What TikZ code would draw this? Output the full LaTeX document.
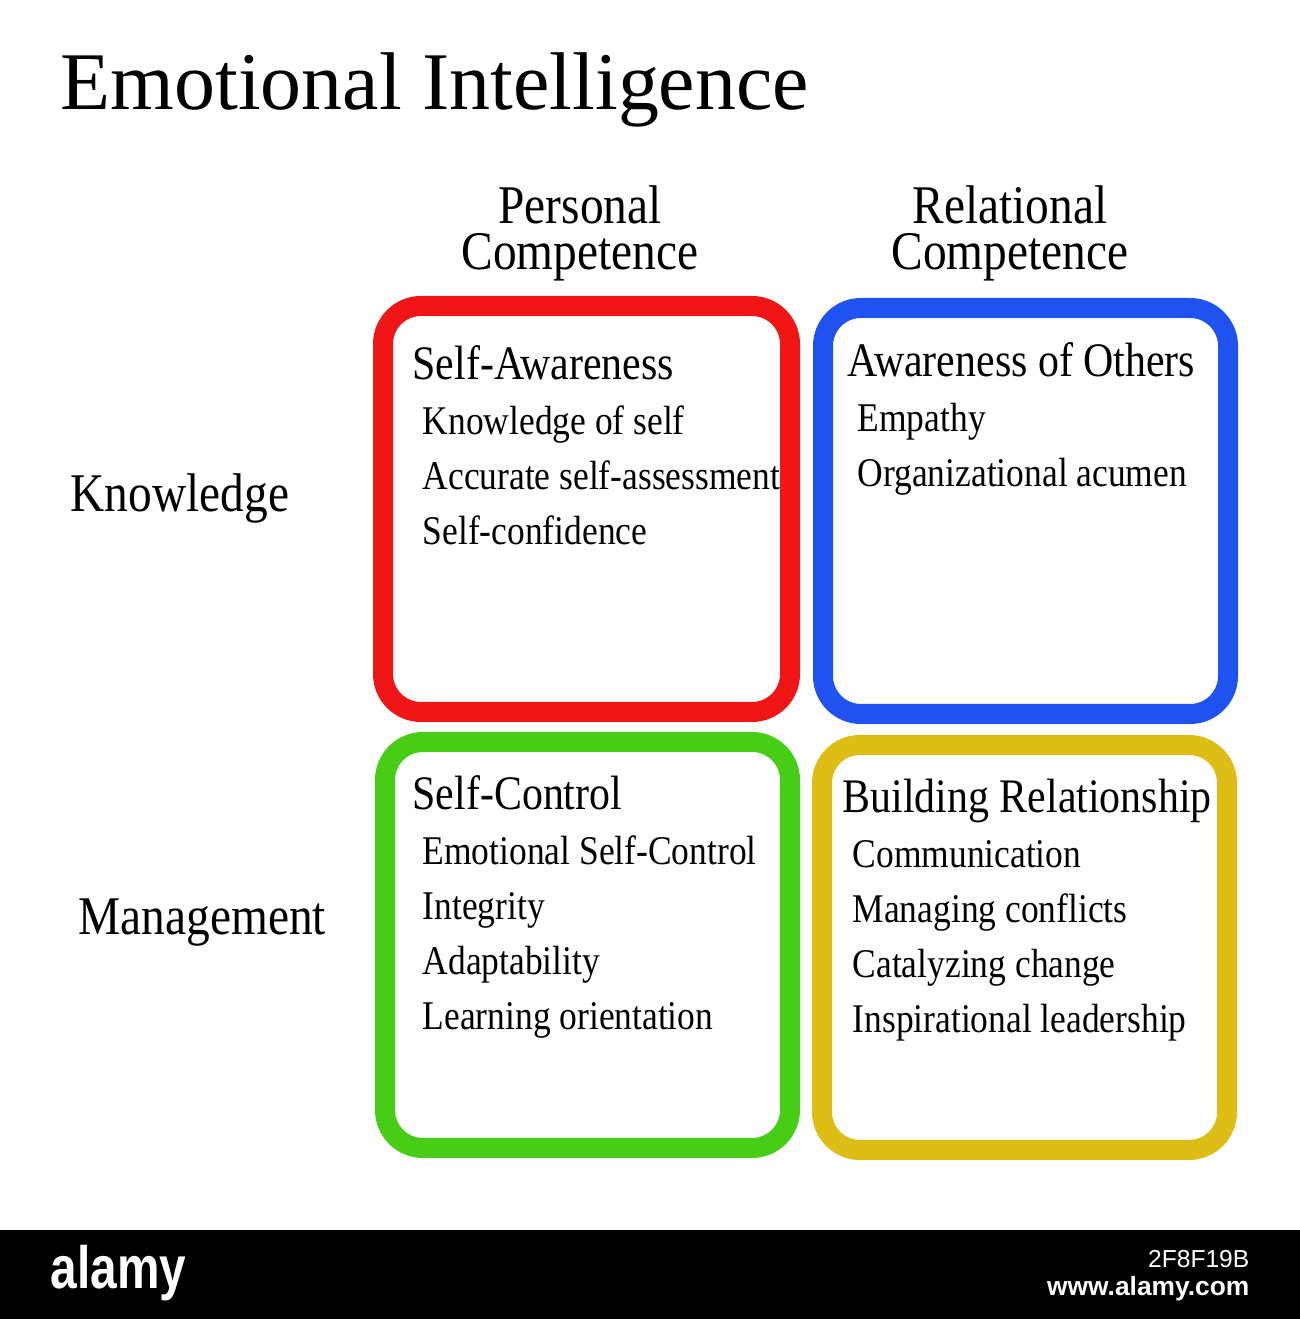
\documentclass[tikz,border=0pt]{standalone}
\usepackage{fontspec}
\setmainfont[FakeStretch=0.87]{Liberation Serif}
\newfontfamily\titlefont{Liberation Serif}
\newfontfamily\barfont{Liberation Sans}
\newfontfamily\barnarrow[FakeStretch=0.8]{Liberation Sans}
\definecolor{boxred}{RGB}{240,22,22}
\definecolor{boxblue}{RGB}{32,82,240}
\definecolor{boxgreen}{RGB}{72,205,22}
\definecolor{boxyellow}{RGB}{222,190,22}
\tikzset{
    quad/.style = {line width = 0.2cm, rounded corners = 0.38cm},
    colhead/.style = {align = center, font = \fontsize{15.5}{13.5}\selectfont, anchor = base, inner sep = 0pt},
    rowhead/.style = {anchor = base west, font = \fontsize{15.5}{19}\selectfont},
    boxhead/.style = {anchor = base west, font = \fontsize{13.7}{16}\selectfont},
    item/.style = {anchor = base west, font = \fontsize{11.6}{14}\selectfont, inner sep = 0pt}
}
\begin{document}
\begin{tikzpicture}
        \useasboundingbox (0,0) rectangle (13,13.19);
        \node[anchor = base west, inner sep = 0pt, font = \titlefont\fontsize{23.3}{28}\selectfont] (title) at (0.6,12.09) {Emotional Intelligence};
        \node[colhead] (personal) at (5.8,10.95) {Personal};
        \node[colhead] (personalc) at (5.8,10.49) {Competence};
        \node[colhead] (relational) at (10.1,10.95) {Relational};
        \node[colhead] (relationalc) at (10.1,10.49) {Competence};
        \node[rowhead, inner sep = 0pt] (knowledge) at (0.7,8.07) {Knowledge};
        \node[rowhead, inner sep = 0pt] (management) at (0.78,3.84) {Management};
        \begin{scope}[style = quad]
            \draw[boxred] (3.83,6.07) rectangle (7.90,10.13);
            \draw[boxblue] (8.23,6.05) rectangle (12.28,10.11);
            \draw[boxgreen] (3.85,1.71) rectangle (7.90,5.77);
            \draw[boxyellow] (8.22,1.69) rectangle (12.27,5.74);
        \end{scope}
        \begin{scope}[every node/.append style = {inner sep = 0pt}]
            \node[boxhead] (selfaware) at (4.12,9.39) {Self-Awareness};
            \node[item] (sa1) at (4.22,8.84) {Knowledge of self};
            \node[item] (sa2) at (4.22,8.29) {Accurate self-assessment};
            \node[item] (sa3) at (4.22,7.74) {Self-confidence};
            \node[boxhead] (otheraware) at (8.47,9.42) {Awareness of Others};
            \node[item] (oa1) at (8.57,8.87) {Empathy};
            \node[item] (oa2) at (8.57,8.32) {Organizational acumen};
            \node[boxhead] (selfcontrol) at (4.12,5.09) {Self-Control};
            \node[item] (sc1) at (4.22,4.54) {Emotional Self-Control};
            \node[item] (sc2) at (4.22,3.99) {Integrity};
            \node[item] (sc3) at (4.22,3.44) {Adaptability};
            \node[item] (sc4) at (4.22,2.89) {Learning orientation};
            \node[boxhead] (building) at (8.42,5.06) {Building Relationship};
            \node[item] (br1) at (8.52,4.51) {Communication};
            \node[item] (br2) at (8.52,3.96) {Managing conflicts};
            \node[item] (br3) at (8.52,3.41) {Catalyzing change};
            \node[item] (br4) at (8.52,2.86) {Inspirational leadership};
        \end{scope}
        % bottom bar
        \fill[black] (0,0) rectangle (13,0.89);
        \node[anchor = base west, inner sep = 0pt, text = white, font = \barnarrow\bfseries\fontsize{17}{17}\selectfont] (alamy) at (0.5,0.3) {alamy};
        \node[anchor = base east, inner sep = 0pt, text = white, font = \barfont\fontsize{7}{8}\selectfont] (code) at (12.5,0.52) {2F8F19B};
        \node[anchor = base east, inner sep = 0pt, text = white, font = \barfont\bfseries\fontsize{7.5}{8}\selectfont] (www) at (12.5,0.24) {www.alamy.com};
    \end{tikzpicture}
\end{document}
